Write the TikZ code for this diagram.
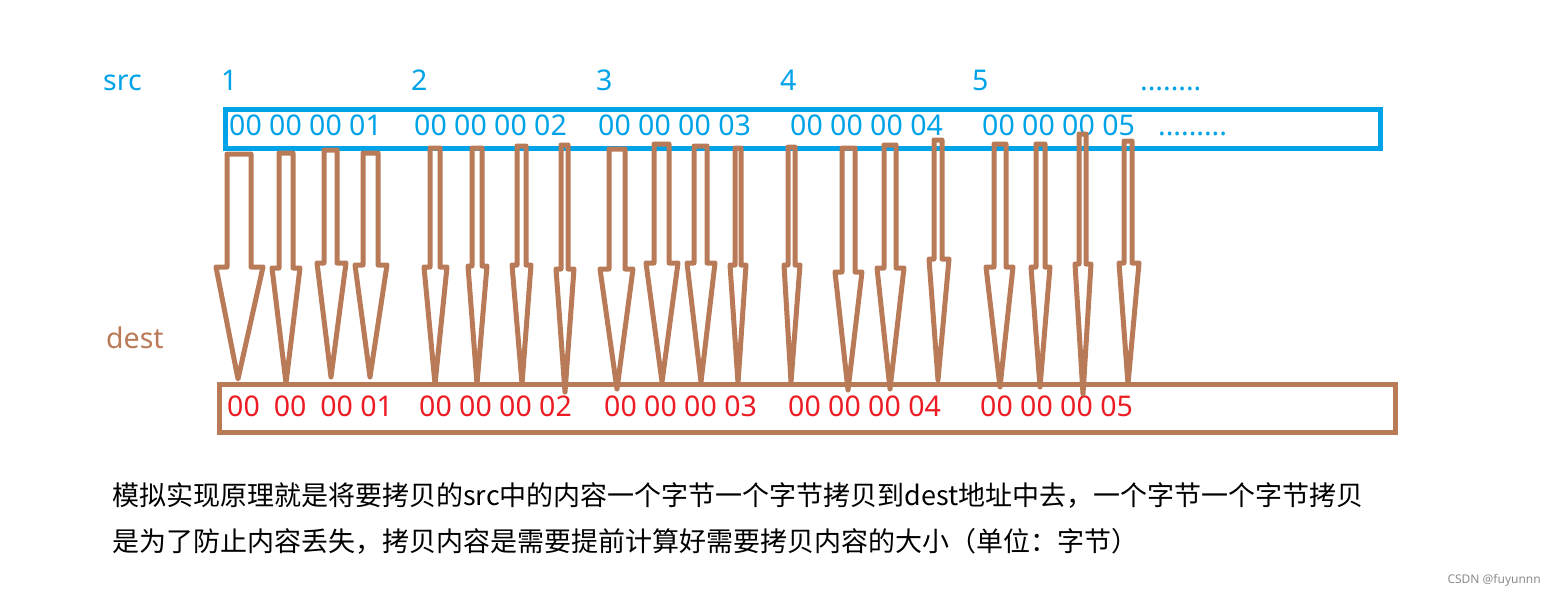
\documentclass[tikz,border=0pt]{standalone}
\usepackage{fontspec}
\setmainfont{Noto Sans}
\newfontfamily\cjk{Noto Sans CJK SC}
\definecolor{srcblue}{RGB}{0,162,232}
\definecolor{dbrown}{RGB}{185,122,87}
\definecolor{dred}{RGB}{237,28,36}
\newcommand\cpyarrow[8]{%
  \draw[cpyarr] ({#1+2},{#3+2}) -- ({#2-2},{#3+2}) -- ({#2-2},#4) -- ({#6-2},#4)
     -- (#7,{#8-3}) -- ({#5+2},#4) -- ({#1+2},#4) -- cycle;}
\tikzset{
  cpyarr/.style={draw=dbrown, line width=5pt, line join=round},
  lbl/.style={anchor=base west, inner sep=0pt, font=\fontsize{28.5}{34}\selectfont},
  bluetxt/.style={lbl, text=srcblue},
  redtxt/.style={lbl, text=dred},
  cn/.style={anchor=base west, inner sep=0pt, font=\cjk\fontsize{27}{32}\selectfont}
}
\begin{document}
\begin{tikzpicture}[x=1pt,y=-1pt]
\useasboundingbox (0,0) rectangle (1557,595);
% boxes
\draw[srcblue, line width=5pt] (225,109) rectangle (1380,148);
\draw[dbrown, line width=5pt] (219,384) rectangle (1395,432);
% labels
\node[bluetxt] (src) at (103,90) {src};
\node[bluetxt] (n1) at (221,90) {1};
\node[bluetxt] (n2) at (411,90) {2};
\node[bluetxt] (n3) at (596,90) {3};
\node[bluetxt] (n4) at (780,90) {4};
\node[bluetxt] (n5) at (972,90) {5};
\node[bluetxt] (ndots) at (1140,90) {........};
\node[bluetxt] (s1) at (229,135) {00 00 00 01};
\node[bluetxt] (s2) at (414,135) {00 00 00 02};
\node[bluetxt] (s3) at (598,135) {00 00 00 03};
\node[bluetxt] (s4) at (790,135) {00 00 00 04};
\node[bluetxt] (s5) at (982,135) {00 00 00 05};
\node[bluetxt] (sdots) at (1158,135) {.........};
\node[lbl, text=dbrown] (dest) at (106,348) {dest};
\node[redtxt] (d1) at (227,416) {00\hspace{14pt}00\hspace{14pt}00 01};
\node[redtxt] (d2) at (419,416) {00 00 00 02};
\node[redtxt] (d3) at (604,416) {00 00 00 03};
\node[redtxt] (d4) at (788,416) {00 00 00 04};
\node[redtxt] (d5) at (980,416) {00 00 00 05};
% arrows
\cpyarrow{225}{253}{152}{267}{214}{265}{238}{382}
\cpyarrow{277}{295}{151}{268}{270}{302}{286}{386}
\cpyarrow{322}{339}{148}{263}{315}{348}{331}{380}
\cpyarrow{361}{380}{151}{265}{353}{389}{370}{380}
\cpyarrow{428}{442}{146}{267}{422}{449}{435}{387}
\cpyarrow{470}{484}{146}{266}{466}{489}{477}{387}
\cpyarrow{515}{528}{144}{265}{510}{533}{522}{387}
\cpyarrow{559}{570}{143}{269}{554}{576}{565}{395}
\cpyarrow{607}{627}{147}{269}{598}{635}{617}{392}
\cpyarrow{652}{671}{142}{263}{644}{680}{662}{385}
\cpyarrow{692}{709}{144}{263}{685}{717}{701}{385}
\cpyarrow{733}{743}{146}{265}{728}{748}{738}{386}
\cpyarrow{786}{797}{145}{265}{782}{802}{791}{385}
\cpyarrow{840}{857}{146}{272}{833}{864}{848}{393}
\cpyarrow{882}{898}{143}{268}{875}{906}{890}{392}
\cpyarrow{932}{944}{138}{259}{927}{951}{938}{383}
\cpyarrow{992}{1008}{142}{267}{984}{1015}{1000}{390}
\cpyarrow{1034}{1047}{142}{267}{1029}{1052}{1040}{390}
\cpyarrow{1077}{1088}{132}{264}{1073}{1093}{1083}{397}
\cpyarrow{1122}{1134}{139}{263}{1117}{1141}{1128}{387}
% bottom text
\node[cn] (t1) at (112,505) {模拟实现原理就是将要拷贝的src中的内容一个字节一个字节拷贝到dest地址中去，一个字节一个字节拷贝};
\node[cn] (t2) at (112,551) {是为了防止内容丢失，拷贝内容是需要提前计算好需要拷贝内容的大小（单位：字节）};
\node[anchor=base east, inner sep=0pt, text=black!45, font=\fontsize{12}{14}\selectfont] (wm) at (1541,583) {CSDN @fuyunnn};
\end{tikzpicture}
\end{document}
